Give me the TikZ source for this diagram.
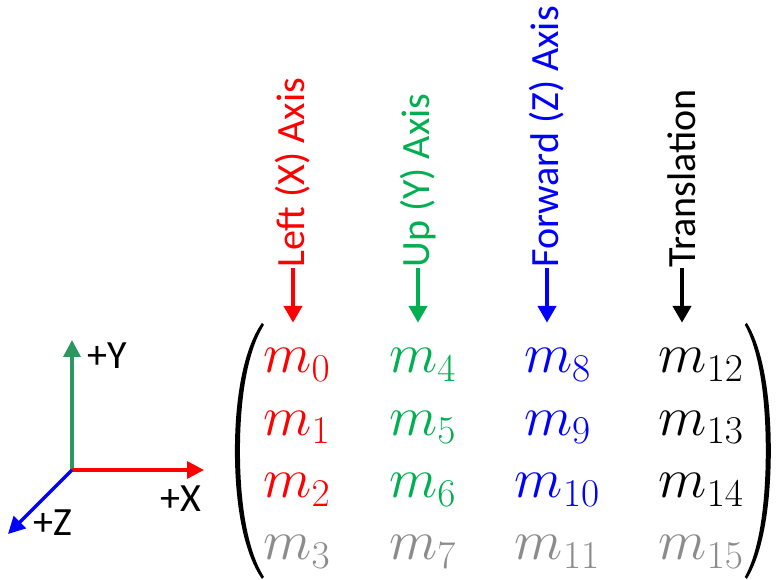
\RequirePackage{fix-cm}
\documentclass[tikz,border=0pt]{standalone}
\usepackage[no-math]{fontspec}
\setmainfont{Carlito}
\usetikzlibrary{arrows.meta,matrix}
\definecolor{axred}{RGB}{255,0,0}
\definecolor{axgreen}{RGB}{0,176,80}
\definecolor{axblue}{RGB}{0,0,255}
\definecolor{ygreen}{RGB}{46,150,95}
\definecolor{mgray}{RGB}{140,140,140}

\begin{document}
\begin{tikzpicture}[
    lbl/.style={font=\fontsize{28.5}{34}\selectfont, inner sep=0pt},
    collbl/.style={lbl, rotate=90, anchor=west},
    entry/.style={font=\fontsize{40}{48}\selectfont, inner sep=0pt, text height=0.5cm, text depth=0.25cm},
    axis/.style={-{Triangle[length=0.42cm, width=0.42cm]}, line width=2.4pt},
    arrow/.style={-{Triangle[length=0.42cm, width=0.45cm]}, line width=2.8pt, shorten >=0.75cm}
  ]
  \useasboundingbox (0,0) rectangle (19.5,14.5);

  % --- coordinate axes ---
  \coordinate (o) at (1.8,2.75);
  \coordinate (xend) at (5.1,2.75);
  \coordinate (yend) at (1.8,6.0);
  \coordinate (zend) at (0.2,1.15);
  \draw[axis, ygreen] (o) -- (yend);
  \draw[axis, axred] (o) -- (xend);
  \draw[axis, axblue] (o) -- (zend);
  \node[lbl, anchor=base west] (ylbl) at (2.18,5.28) {+Y};
  \node[lbl, anchor=base west] (xlbl) at (4.0,1.7) {+X};
  \node[lbl, anchor=base west] (zlbl) at (0.83,1.12) {+Z};

  % --- matrix ---
  \matrix (M) [matrix of math nodes, matrix anchor=M-1-1.base,
      column sep=1.47cm, row sep=0.808cm,
      nodes={entry},
      column 1/.style={nodes={axred}},
      column 2/.style={nodes={axgreen}},
      column 3/.style={nodes={axblue}},
      column 4/.style={nodes={black}},
      row 4/.style={nodes={mgray}}] at (7.425,5.175) {
    m_0 & m_4 & m_8    & m_{12} \\
    m_1 & m_5 & m_9    & m_{13} \\
    m_2 & m_6 & m_{10} & m_{14} \\
    m_3 & m_7 & m_{11} & m_{15} \\
  };

  % brackets (pixel grid, origin top left)
  \begin{scope}[x=0.025cm, y=-0.025cm, yshift=14.5cm]
    \fill (262,323) .. controls (243,350) and (235,400) .. (235,451)
      .. controls (235,502) and (243,552) .. (262,579) -- (264,577)
      .. controls (247,550) and (240,502) .. (240,451)
      .. controls (240,400) and (247,352) .. (264,325) -- cycle;
    \fill (747,323) .. controls (764,350) and (771,400) .. (771,451)
      .. controls (771,502) and (764,552) .. (747,579) -- (745,577)
      .. controls (760,550) and (766,502) .. (766,451)
      .. controls (766,400) and (760,352) .. (745,325) -- cycle;
  \end{scope}

  % --- column labels ---
  \node[collbl, axred] (lleft) at (7.325,7.8) {Left (X) Axis};
  \node[collbl, axgreen] (lup) at (10.45,7.8) {Up (Y) Axis};
  \node[collbl, axblue] (lfwd) at (13.675,7.8) {Forward (Z) Axis};
  \node[collbl, black] (ltrans) at (17.05,7.8) {Translation};

  \draw[arrow, axred] (lleft.west) -- (lleft.west |- M-1-1.north);
  \draw[arrow, axgreen] (lup.west) -- (lup.west |- M-1-2.north);
  \draw[arrow, axblue] (lfwd.west) -- (lfwd.west |- M-1-3.north);
  \draw[arrow, black] (ltrans.west) -- (ltrans.west |- M-1-4.north);
\end{tikzpicture}
\end{document}
